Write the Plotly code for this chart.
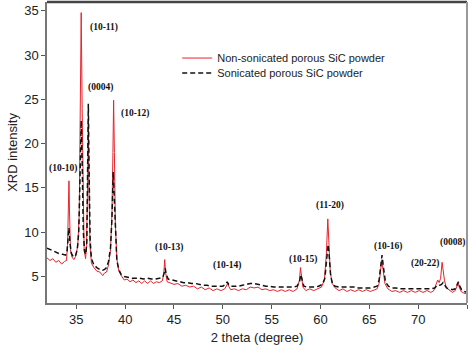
import plotly.graph_objects as go

# Non-sonicated porous SiC powder (red)
red_x = [32.0, 32.3, 32.6, 32.9, 33.2, 33.5, 33.8, 34.0, 34.1, 34.2, 34.25, 34.3, 34.4, 34.55, 34.75, 34.95,
         35.15, 35.3, 35.4, 35.5, 35.6, 35.7, 35.8, 35.95, 36.05, 36.15, 36.23, 36.3, 36.4, 36.55, 36.8,
         37.1, 37.4, 37.7, 37.9, 38.1, 38.3, 38.5, 38.65, 38.75, 38.82, 38.9, 39.0, 39.15, 39.35, 39.6,
         39.9, 40.2, 40.5, 40.8, 41.1, 41.4, 41.7, 42.0, 42.3, 42.6, 42.9, 43.2, 43.5, 43.8, 43.95, 44.05,
         44.15, 44.3, 44.6, 45.0, 45.4, 45.8, 46.2, 46.6, 47.0, 47.4, 47.8, 48.2, 48.6, 49.0, 49.4, 49.8,
         50.2, 50.4, 50.5, 50.6, 50.8, 51.2, 51.6, 52.0, 52.4, 52.8, 53.2, 53.6, 54.0, 54.4, 54.8, 55.2,
         55.6, 56.0, 56.4, 56.8, 57.2, 57.6, 57.85, 57.95, 58.05, 58.2, 58.5, 58.9, 59.3, 59.7, 60.1, 60.4,
         60.6, 60.75, 60.85, 61.0, 61.2, 61.5, 61.9, 62.3, 62.7, 63.1, 63.5, 63.9, 64.3, 64.7, 65.1, 65.5,
         65.8, 66.0, 66.15, 66.28, 66.4, 66.6, 66.9, 67.3, 67.7, 68.1, 68.5, 68.9, 69.3, 69.7, 70.1, 70.5,
         70.9, 71.3, 71.6, 71.85, 72.0, 72.15, 72.3, 72.45, 72.55, 72.7, 72.9, 73.2, 73.5, 73.8, 74.0, 74.1,
         74.2, 74.4, 74.7, 75.0]
red_y = [7.1, 6.8, 7.0, 6.6, 6.8, 6.4, 6.7, 6.8, 8.5, 13.0, 15.8, 12.5, 8.0, 7.2, 6.9, 7.3,
         8.5, 12.0, 22.0, 34.8, 24.0, 12.0, 8.0, 7.0, 8.5, 15.0, 22.5, 15.0, 8.5, 6.5, 6.0,
         5.6, 5.5, 5.1, 5.4, 5.5, 6.3, 8.0, 12.0, 19.0, 24.9, 19.0, 11.0, 7.0, 5.6, 5.1,
         4.6, 4.7, 4.4, 4.6, 4.3, 4.5, 4.2, 4.5, 4.2, 4.5, 4.2, 4.4, 4.3, 4.5, 5.2, 6.9,
         5.4, 4.4, 4.3, 4.1, 4.2, 3.9, 4.0, 3.8, 3.9, 3.6, 3.8, 3.5, 3.7, 3.4, 3.6, 3.4,
         3.6, 4.0, 4.2, 3.9, 3.5, 3.6, 3.4, 3.6, 3.5, 3.8, 3.7, 3.8, 3.5, 3.6, 3.4, 3.5,
         3.3, 3.5, 3.3, 3.5, 3.3, 3.6, 4.6, 6.0, 5.0, 3.8, 3.4, 3.6, 3.4, 3.6, 3.8, 4.6,
         7.5, 11.5, 9.0, 5.5, 4.2, 3.7, 3.4, 3.6, 3.3, 3.5, 3.3, 3.5, 3.3, 3.5, 3.3, 3.5,
         3.6, 4.2, 5.8, 6.9, 5.8, 4.2, 3.6, 3.3, 3.4, 3.2, 3.4, 3.2, 3.4, 3.2, 3.4, 3.2,
         3.4, 3.2, 3.4, 4.2, 4.6, 4.3, 4.8, 6.6, 5.6, 4.5, 3.7, 3.4, 3.2, 3.4, 3.9, 4.3,
         3.8, 3.3, 3.1, 3.0]

# Sonicated porous SiC powder (black dashed)
blk_x = [32.0, 32.4, 32.8, 33.2, 33.6, 33.9, 34.05, 34.15, 34.25, 34.35, 34.5, 34.7, 34.9, 35.1, 35.25,
         35.4, 35.5, 35.6, 35.72, 35.85, 35.98, 36.08, 36.15, 36.23, 36.32, 36.42, 36.55, 36.8, 37.1, 37.4,
         37.7, 37.9, 38.1, 38.3, 38.5, 38.65, 38.78, 38.88, 39.0, 39.15, 39.35, 39.6, 39.9, 40.3, 40.7,
         41.1, 41.5, 41.9, 42.3, 42.7, 43.1, 43.5, 43.85, 44.0, 44.1, 44.2, 44.4, 44.8, 45.2, 45.6, 46.0,
         46.4, 46.8, 47.2, 47.6, 48.0, 48.4, 48.8, 49.2, 49.6, 50.0, 50.3, 50.45, 50.6, 50.8, 51.2, 51.6,
         52.0, 52.4, 52.8, 53.2, 53.6, 54.0, 54.4, 54.8, 55.2, 55.6, 56.0, 56.4, 56.8, 57.2, 57.6, 57.85,
         57.98, 58.1, 58.3, 58.6, 59.0, 59.4, 59.8, 60.2, 60.45, 60.62, 60.78, 60.9, 61.05, 61.25, 61.5,
         61.9, 62.3, 62.7, 63.1, 63.5, 63.9, 64.3, 64.7, 65.1, 65.5, 65.8, 66.0, 66.15, 66.3, 66.45, 66.65,
         66.95, 67.3, 67.7, 68.1, 68.5, 68.9, 69.3, 69.7, 70.1, 70.5, 70.9, 71.3, 71.7, 71.95, 72.2, 72.4,
         72.55, 72.7, 72.9, 73.2, 73.5, 73.8, 74.0, 74.12, 74.25, 74.45, 74.7, 75.0]
blk_y = [8.2, 8.0, 7.8, 7.6, 7.5, 7.4, 7.8, 9.0, 10.5, 8.8, 7.6, 7.2, 7.3, 8.0, 10.0,
         17.0, 22.6, 18.0, 10.0, 7.8, 7.5, 9.0, 17.0, 24.5, 16.0, 9.0, 7.0, 6.3, 6.0, 5.8,
         5.7, 5.8, 6.0, 6.7, 8.2, 11.5, 16.8, 14.0, 9.5, 6.8, 5.8, 5.2, 5.0, 4.9, 4.8,
         4.8, 4.8, 4.7, 4.8, 4.7, 4.7, 4.8, 4.9, 5.4, 5.9, 5.3, 4.7, 4.6, 4.5, 4.4, 4.3,
         4.3, 4.2, 4.2, 4.1, 4.0, 4.0, 3.9, 3.9, 3.9, 3.9, 4.1, 4.4, 4.1, 3.9, 3.9, 3.9,
         4.0, 4.1, 4.2, 4.2, 4.1, 4.0, 3.9, 3.9, 3.8, 3.8, 3.8, 3.8, 3.8, 3.8, 3.9, 4.4,
         5.2, 4.6, 3.9, 3.8, 3.8, 3.8, 3.9, 4.1, 4.8, 6.5, 8.6, 7.2, 5.0, 4.1, 3.9,
         3.8, 3.8, 3.8, 3.8, 3.8, 3.7, 3.7, 3.7, 3.7, 3.8, 3.9, 4.6, 6.2, 7.4, 6.0, 4.4,
         3.9, 3.7, 3.7, 3.6, 3.6, 3.6, 3.6, 3.6, 3.6, 3.6, 3.6, 3.6, 3.7, 4.0, 4.0, 4.1,
         4.3, 4.0, 3.7, 3.6, 3.5, 3.6, 4.0, 4.4, 3.9, 3.5, 3.3, 3.2]

# Peak labels
lab_text = ["(10-10)", "(10-11)", "(0004)", "(10-12)", "(10-13)", "(10-14)",
            "(10-15)", "(11-20)", "(10-16)", "(20-22)", "(0008)"]
lab_x = [33.7, 37.8, 37.45, 41.1, 44.5, 50.5, 58.3, 61.0, 67.0, 70.7, 73.5]
lab_y = [17.2, 33.1, 26.3, 23.4, 8.3, 6.2, 6.9, 13.0, 8.4, 6.5, 8.8]

fig = go.Figure()
fig.add_trace(go.Scatter(x=red_x, y=red_y, mode="lines", name="Non-sonicated porous SiC powder",
                         line=dict(color="#e8232b", width=1), legend="legend"))
fig.add_trace(go.Scatter(x=blk_x, y=blk_y, mode="lines", name="Sonicated porous SiC powder",
                         line=dict(color="#111111", width=1.5, dash="5px,3px"), legend="legend2"))

for t, x, y in zip(lab_text, lab_x, lab_y):
    fig.add_annotation(x=x, y=y, text="<b>" + t + "</b>", showarrow=False,
                       font=dict(family="Liberation Serif", size=9.5, color="#111"))

axis_common = dict(showline=True, linecolor="#777", linewidth=1.5, ticks="outside", ticklen=4,
                   tickcolor="#555", showgrid=False, zeroline=False,
                   tickfont=dict(family="Liberation Sans", size=13, color="#222"))

leg_font = dict(family="Liberation Sans", size=11, color="#222")
fig.update_layout(
    width=474, height=353,
    margin=dict(l=47, r=7, t=2, b=50),
    plot_bgcolor="white", paper_bgcolor="white",
    showlegend=True,
    legend=dict(x=0.31, y=0.862, xanchor="left", yanchor="top", bgcolor="rgba(0,0,0,0)", font=leg_font),
    legend2=dict(x=0.31, y=0.812, xanchor="left", yanchor="top", bgcolor="rgba(0,0,0,0)", font=leg_font),
    xaxis=dict(range=[32, 75], tickvals=[35, 40, 45, 50, 55, 60, 65, 70, 75],
               title=dict(text="2 theta (degree)", font=dict(family="Liberation Sans", size=13, color="#222"),
                          standoff=7),
               **axis_common),
    yaxis=dict(range=[2, 36], tickvals=[5, 10, 15, 20, 25, 30, 35],
               title=dict(text="XRD intensity", font=dict(family="Liberation Sans", size=13, color="#222"),
                          standoff=4),
               **axis_common),
)
# top and right frame
fig.add_shape(type="line", xref="paper", yref="paper", x0=0, x1=1, y0=1, y1=1,
              line=dict(color="#444", width=2.5))
fig.add_shape(type="line", xref="paper", yref="paper", x0=1, x1=1, y0=0, y1=1,
              line=dict(color="#999", width=2))

fig.write_html("out.html")
